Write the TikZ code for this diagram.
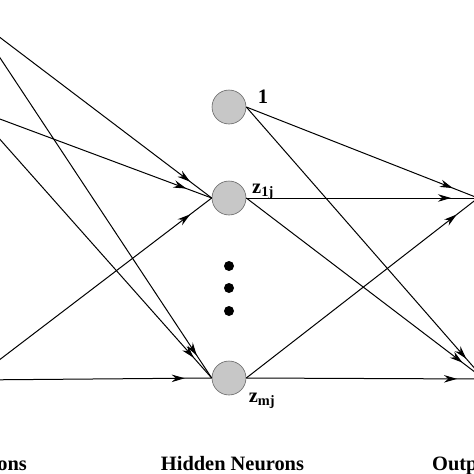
\documentclass[tikz,border=0pt]{standalone}
\usepackage{fontspec}
\setmainfont{Liberation Serif}
\usetikzlibrary{arrows.meta,decorations.markings}
\tikzset{
  neuron/.style={circle,draw=black!60,fill=black!22,line width=0.6pt,minimum size=34pt,inner sep=0pt},
  conn/.style={line width=1pt,postaction={decorate},decoration={markings,
      mark=at position -27pt with {\arrow{Stealth[length=13pt,width=7.5pt]}}}},
  lbl/.style={font=\fontsize{20.5}{24}\selectfont\bfseries,inner sep=0pt},
  title/.style={font=\fontsize{20.4}{24}\selectfont\bfseries,inner sep=0pt},
  dot/.style={circle,fill=black,minimum size=10pt,inner sep=0pt}
}
\begin{document}
\begin{tikzpicture}[x=1pt,y=-1pt]
\useasboundingbox (0,0) rectangle (474,474);
\clip (0,0) rectangle (474,474);
% input neurons (outside the frame)
\coordinate (i1) at (-27,17);
\coordinate (i2) at (-27,109);
\coordinate (i3) at (-27,380);
% hidden neurons
\node[neuron] (h1) at (229,107) {};
\node[neuron] (h2) at (229,198) {};
\node[neuron] (h3) at (229,378) {};
% output neurons (outside the frame)
\coordinate (o1) at (478,198);
\coordinate (o2) at (484,379);
% dots
\node[dot] (d1) at (229,266) {};
\node[dot] (d2) at (229,288) {};
\node[dot] (d3) at (229,311) {};
% labels
\node[lbl,anchor=base] (l1) at (263,103) {1};
\node[lbl,anchor=base] (lz1) at (263,193) {z\textsubscript{1j}};
\node[lbl,anchor=base] (lzm) at (262,402) {z\textsubscript{mj}};
% input connections
\draw[conn] (i1) -- (h2.west);
\draw[conn] (i1) -- (h3.west);
\draw[conn] (i2) -- (h2.west);
\draw[conn] (i2) -- (h3.west);
\draw[conn] (i3) -- (h2.west);
\draw[conn] (i3) -- (h3.west);
% output connections
\draw[conn] (h1.east) -- (o1);
\draw[conn] (h1.east) -- (o2);
\draw[conn] (h2.east) -- (o1);
\draw[conn] (h2.east) -- (o2);
\draw[conn] (h3.east) -- (o1);
\draw[conn] (h3.east) -- (o2);
% layer titles
\node[title,anchor=base east] (tin) at (27,470) {ons};
\node[title,anchor=base] (thid) at (232.5,470) {Hidden Neurons};
\node[title,anchor=base west] (tout) at (432,470) {Outp};
\end{tikzpicture}
\end{document}
